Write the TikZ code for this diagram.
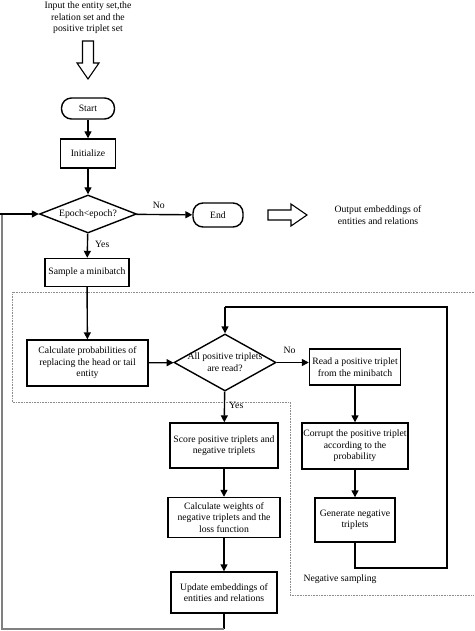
\documentclass[tikz,border=0pt]{standalone}
\usepackage{fontspec}
\setmainfont{Liberation Serif}
\usetikzlibrary{shapes.geometric,arrows.meta}
\tikzset{
  txt/.style={align=center,inner sep=0pt,font=\fontsize{9.7}{11.6}\selectfont},
  procbox/.style={txt,draw,line width=1.4pt},
  termbox/.style={txt,draw,line width=1.4pt,rounded corners=10pt},
  decide/.style={draw,diamond,line width=1.4pt,inner sep=0pt},
  flow/.style={line width=1.4pt,-{Triangle[length=7pt,width=7pt]}},
  plain/.style={line width=1.4pt},
  backline/.style={line width=2pt,draw=black!50},
  region/.style={densely dotted,line width=0.6pt,draw=black!45},
  hollow/.style={draw,line width=1.1pt,fill=white}
}
\begin{document}
\begin{tikzpicture}[x=1pt,y=-1pt]
\useasboundingbox (0,0) rectangle (474,631);

\node[txt] (input) at (88,18) {Input the entity set,the\\relation set and the\\positive triplet set};
\node[termbox,minimum width=53pt,minimum height=21pt] (start) at (88,108.5) {Start};
\node[procbox,minimum width=55pt,minimum height=29pt] (init) at (88,153.5) {Initialize};
\node[decide,minimum width=97pt,minimum height=38pt,
      label={[txt]center:Epoch<epoch?}] (epoch) at (88,214) {};
\node[termbox,minimum width=50pt,minimum height=24pt] (end) at (218,215) {End};
\node[txt] (output) at (378,215) {Output embeddings of\\entities and relations};
\node[procbox,minimum width=84pt,minimum height=28pt] (sample) at (87,272.5) {Sample a minibatch};

\node[procbox,minimum width=121pt,minimum height=46pt] (prob) at (87.5,363) {Calculate probabilities of\\replacing the head or tail\\entity};
\node[decide,minimum width=102pt,minimum height=57pt,
      label={[txt]center:All positive triplets\\are read?}] (allread) at (225,362.5) {};
\node[procbox,minimum width=91pt,minimum height=36pt] (readone) at (355,367) {Read a positive triplet\\from the minibatch};
\node[procbox,minimum width=106pt,minimum height=46pt] (corrupt) at (355,446) {Corrupt the positive triplet\\according to the\\probability};
\node[procbox,minimum width=80pt,minimum height=44pt] (negs) at (355,520) {Generate negative\\triplets};
\node[txt] (negtitle) at (340,579) {Negative sampling};

\node[procbox,minimum width=108pt,minimum height=45pt] (score) at (224,445.5) {Score positive triplets and\\negative triplets};
\node[procbox,minimum width=112pt,minimum height=40pt] (weights) at (224,517.5) {Calculate weights of\\negative triplets and the\\loss function};
\node[procbox,minimum width=106pt,minimum height=41pt] (update) at (224,592.5) {Update embeddings of\\entities and relations};

\coordinate (backbot) at (224,629);
\coordinate (backcorner) at (2,629);
\coordinate (backtop) at (2,214);
\coordinate (looptop) at (447,307);
\coordinate (loopbot) at (447,568);

\draw[region] (474,292) -- (12,292) -- (12,402) -- (290,402) -- (290,595) -- (474,595);

\draw[hollow] (82.5,41) -- (93.5,41) -- (93.5,63) -- (99,63) -- (88,79) -- (77,63) -- (82.5,63) -- cycle;
\draw[hollow] (268,210) -- (291,210) -- (291,204) -- (307,215) -- (291,226) -- (291,220) -- (268,220) -- cycle;

\draw[flow] (start) -- (init);
\draw[flow] (init) -- (epoch);
\draw[flow] (epoch) -- node[txt,above=5pt,pos=0.4] {No} (end);
\draw[flow] (epoch) -- node[txt,right=7pt,pos=0.45] {Yes} (sample);
\draw[flow] (sample) -- (prob);
\draw[flow] (prob) -- (allread);
\draw[flow] (allread) -- node[txt,above=8pt,pos=0.4] {No} (readone.west |- allread);
\draw[flow] (readone) -- (corrupt);
\draw[flow] (corrupt) -- (negs);
\draw[flow] (allread) -- node[txt,right=4pt,pos=0.45] {Yes} (score);
\draw[flow] (score) -- (weights);
\draw[flow] (weights) -- (update);
\draw[plain] (negs) -- (negs |- loopbot) -- (loopbot) -- (looptop) -- (allread |- looptop);
\draw[flow] (allread |- looptop) -- (allread);
\draw[plain] (update) -- (backbot);
\draw[backline] (backbot) -- (backcorner) -- (backtop);
\draw[flow] (0,214) -- (epoch);
\end{tikzpicture}
\end{document}
